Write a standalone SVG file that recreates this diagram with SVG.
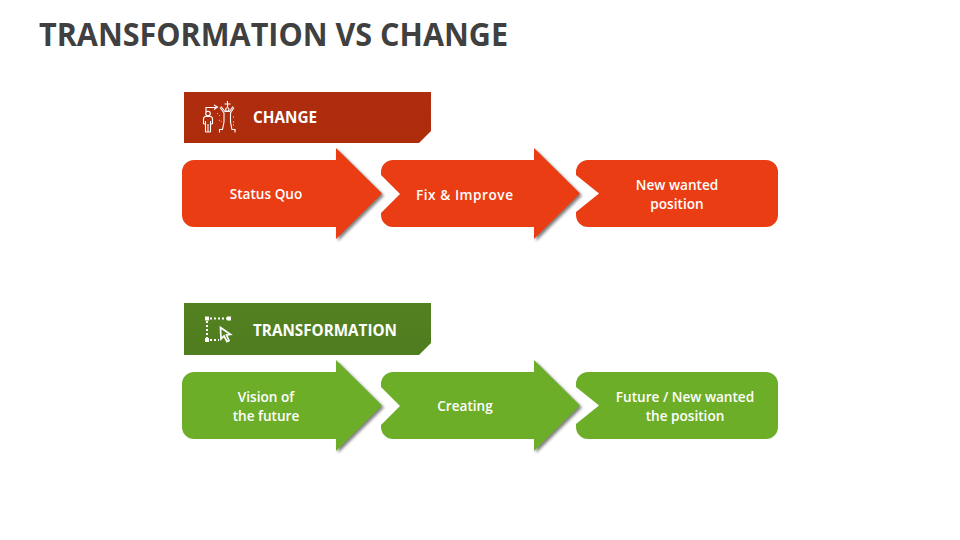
<svg xmlns="http://www.w3.org/2000/svg" width="960" height="540" viewBox="0 0 960 540">
<style>
text{font-family:"Open Sans","Noto Sans","Liberation Sans",sans-serif;fill:#fff;text-anchor:middle}
.title{font-size:33px;font-weight:700;fill:#404040;text-anchor:start}
.head{font-size:16px;font-weight:700;text-anchor:start}
.lab{font-size:13.6px;font-weight:600}
.r{fill:#EA3D14}
.g{fill:#6DAE29}
.ic{fill:none;stroke:#fff;stroke-width:1.1}
.cur{fill:none;stroke:#fff;stroke-width:1.7}
.dot{fill:none;stroke:#fff;stroke-width:2;stroke-dasharray:2 2}
.sp{fill:none;stroke:#fff;stroke-width:.9;stroke-dasharray:1 2}
</style>
<defs>
<filter id="sh" x="-30%" y="-30%" width="170%" height="170%"><feGaussianBlur stdDeviation="1.6"/></filter>
<linearGradient id="gr" x1="0" y1="0" x2="0" y2="1"><stop offset="0" stop-color="#AE2D0E"/><stop offset="1" stop-color="#AC2C0C"/></linearGradient>
<linearGradient id="gg" x1="0" y1="0" x2="0" y2="1"><stop offset="0" stop-color="#548120"/><stop offset="1" stop-color="#4F7D1F"/></linearGradient>
<path id="a1" d="M194 160H336V148L382 193.5L336 239V227H194A12 12 0 0 1 182 215V172A12 12 0 0 1 194 160Z"/>
<path id="a2" d="M393 160H534V148L580 193.5L534 239V227H393A12 12 0 0 1 381 215V213L400 194L381 175V172A12 12 0 0 1 393 160Z"/>
<path id="a3" d="M588 160H766A12 12 0 0 1 778 172V215A12 12 0 0 1 766 227H588A12 12 0 0 1 576 215V212L599 193.5L576 175V172A12 12 0 0 1 588 160Z"/>
<path id="hd1" d="M336 148L382 193.5L336 239Z"/>
<path id="hd2" d="M534 148L580 193.5L534 239Z"/>
</defs>
<rect width="960" height="540" fill="#fff"/>
<text class="title" x="39" y="46" id="title" textLength="469" lengthAdjust="spacingAndGlyphs">TRANSFORMATION VS CHANGE</text>

<g id="change-header">
<path d="M184 92H431V131L419 143H184Z" fill="url(#gr)"/>
<g class="ic">
<circle cx="208" cy="113.500" r="2.300"/>
<path d="M203.500 124V119Q203.500 116.500 206 116.500H210Q212.500 116.500 212.500 119V124M205.500 132V121M210.500 132V121M205.500 132H210.500M208 124V132M203.500 124H205.500M210.500 124H212.500"/>
<path d="M206 112V107.500H216M214 105L217.500 107L214 109.500"/>
<path d="M220 107.500L224 113V122L222.500 129.500H219.500V132.500M234 107.500L230.500 113V122L232 129.500H235V132.500M221 106.500L225 111.500H229.500L233 106.500"/>
<path d="M227.500 101V107M224.500 104H230.500"/>
<circle cx="227.300" cy="109.500" r="1.700"/>
</g>
<path class="sp" d="M217 113L221 117M219 120L222 122M233 117H236M233 122H236M233 125H235"/>
<text class="head" x="253" y="123" textLength="64" lengthAdjust="spacingAndGlyphs">CHANGE</text>
</g>

<g id="status-quo">
<use href="#hd1" fill="#555" opacity=".75" filter="url(#sh)" transform="translate(2 2)"/>
<use href="#a1" class="r"/>
<text class="lab" x="266" y="199">Status Quo</text>
</g>
<g id="fix-improve">
<use href="#hd2" fill="#555" opacity=".75" filter="url(#sh)" transform="translate(2 2)"/>
<use href="#a2" class="r"/>
<text class="lab" x="464.500" y="200" textLength="97" lengthAdjust="spacing">Fix &amp; Improve</text>
</g>
<g id="new-wanted">
<use href="#a3" class="r"/>
<text class="lab" x="677" y="190">New wanted</text>
<text class="lab" x="677" y="209">position</text>
</g>

<g id="transformation-header">
<path d="M184 303H431V343L419 355H184Z" fill="url(#gg)"/>
<path class="dot" d="M210 318.500H227M207 321V338M210 340H219"/>
<rect x="205" y="316.500" width="4" height="4" fill="#fff"/><rect x="227" y="316.500" width="4" height="4" fill="#fff"/><rect x="205" y="338" width="4" height="4" fill="#fff"/>
<path class="cur" d="M220.500 327.500L221 339L224 336L227 341.500L229 340.500L226.500 335L230.500 334.500Z"/>
<text class="head" x="253" y="336" textLength="144" lengthAdjust="spacingAndGlyphs">TRANSFORMATION</text>
</g>

<g transform="translate(0 212)">
<g id="vision">
<use href="#hd1" fill="#555" opacity=".75" filter="url(#sh)" transform="translate(2 2)"/>
<use href="#a1" class="g"/>
<text class="lab" x="266" y="190">Vision of</text>
<text class="lab" x="266" y="209">the future</text>
</g>
<g id="creating">
<use href="#hd2" fill="#555" opacity=".75" filter="url(#sh)" transform="translate(2 2)"/>
<use href="#a2" class="g"/>
<text class="lab" x="465" y="199">Creating</text>
</g>
<g id="future">
<use href="#a3" class="g"/>
<text class="lab" x="685" y="190">Future / New wanted</text>
<text class="lab" x="685" y="209">the position</text>
</g>
</g>
<g id="connectors"/>
</svg>
